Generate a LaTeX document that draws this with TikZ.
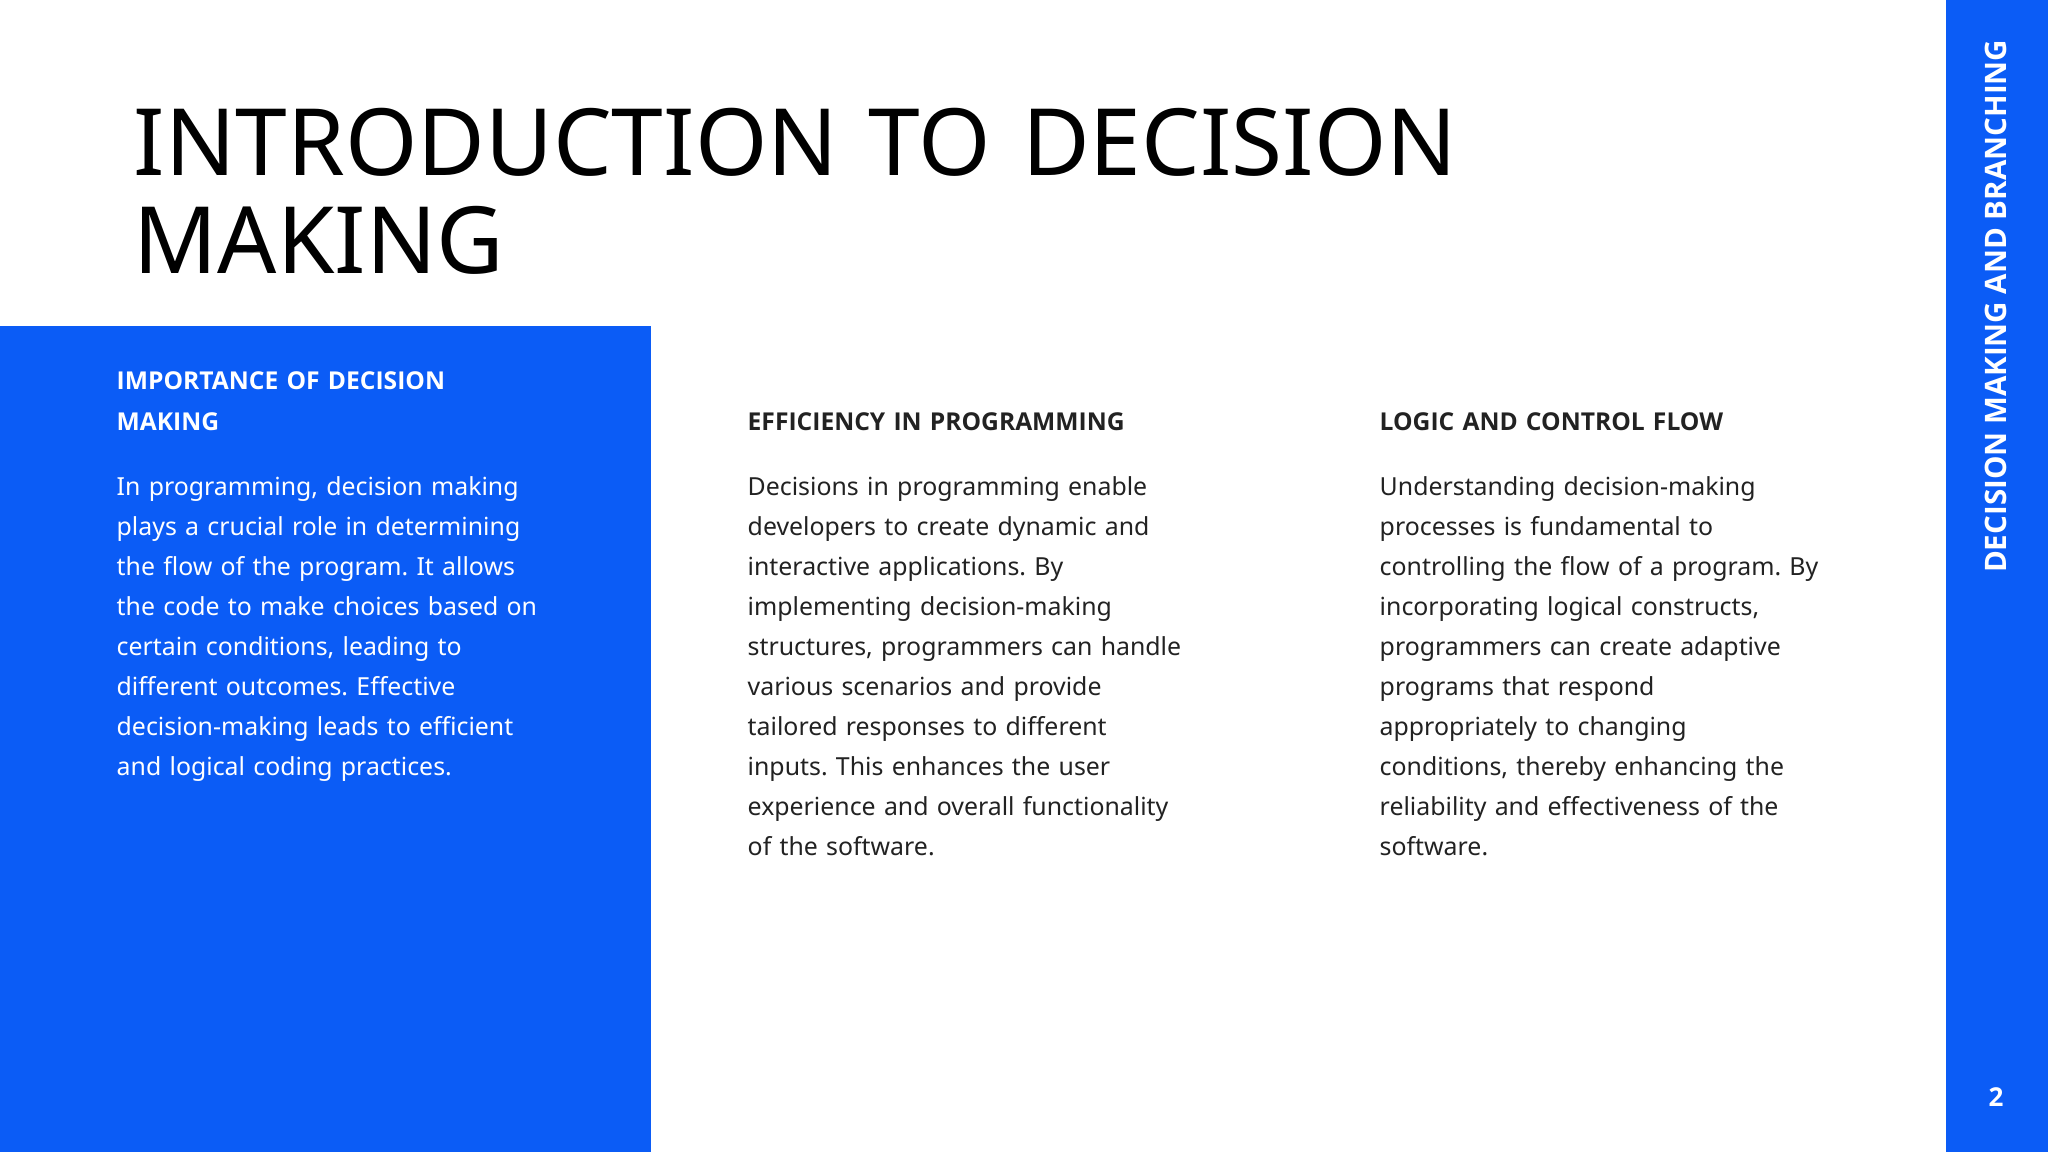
\documentclass[tikz,border=0pt]{standalone}
\usepackage{fontspec}
\setmainfont{Noto Sans}
\newfontfamily\hb{Open Sans}
\frenchspacing
\definecolor{bl}{HTML}{0B5CF6}
\definecolor{dk}{HTML}{222222}
\begin{document}
\begin{tikzpicture}[x=0.01cm,y=-0.01cm,
 body/.style={anchor=base west,inner sep=0,text width=500,align=left,font=\fontsize{7.07}{11.4}\selectfont},
 head/.style={anchor=base west,inner sep=0,text width=500,align=left,font=\hb\fontsize{7.0}{11.5}\selectfont\bfseries}]
\useasboundingbox (0,0) rectangle (2048,1152);
\fill[white] (0,0) rectangle (2048,1152);
\fill[bl] (0,326.5) rectangle (651,1152);
\fill[bl] (1946,0) rectangle (2048,1152);
\node[anchor=base west,inner sep=0,text width=1700,align=left,font=\fontsize{26.4}{27.8}\selectfont] (title) at (133,176) {INTRODUCTION TO DECISION\\MAKING};
\node[head,text=white] (h1) at (116,390) {IMPORTANCE OF DECISION\\MAKING};
\node[body,text=white] (b1) at (116,495) {In programming, decision making\\plays a crucial role in determining\\the flow of the program. It allows\\the code to make choices based on\\certain conditions, leading to\\different outcomes. Effective\\decision-making leads to efficient\\and logical coding practices.};
\node[head,text=dk] (h2) at (747,431) {EFFICIENCY IN PROGRAMMING};
\node[body,text=dk] (b2) at (747,495) {Decisions in programming enable\\developers to create dynamic and\\interactive applications. By\\implementing decision-making\\structures, programmers can handle\\various scenarios and provide\\tailored responses to different\\inputs. This enhances the user\\experience and overall functionality\\of the software.};
\node[head,text=dk] (h3) at (1379,431) {LOGIC AND CONTROL FLOW};
\node[body,text=dk] (b3) at (1379,495) {Understanding decision-making\\processes is fundamental to\\controlling the flow of a program. By\\incorporating logical constructs,\\programmers can create adaptive\\programs that respond\\appropriately to changing\\conditions, thereby enhancing the\\reliability and effectiveness of the\\software.};
\node[rotate=90,anchor=east,inner sep=0,text=white,font=\hb\fontsize{8.4}{10}\selectfont\bfseries] (side) at (1996,39) {DECISION MAKING AND BRANCHING};
\node[text=white,inner sep=0,font=\hb\fontsize{7.4}{9}\selectfont\bfseries] (pg) at (1996,1097) {2};
\end{tikzpicture}
\end{document}
